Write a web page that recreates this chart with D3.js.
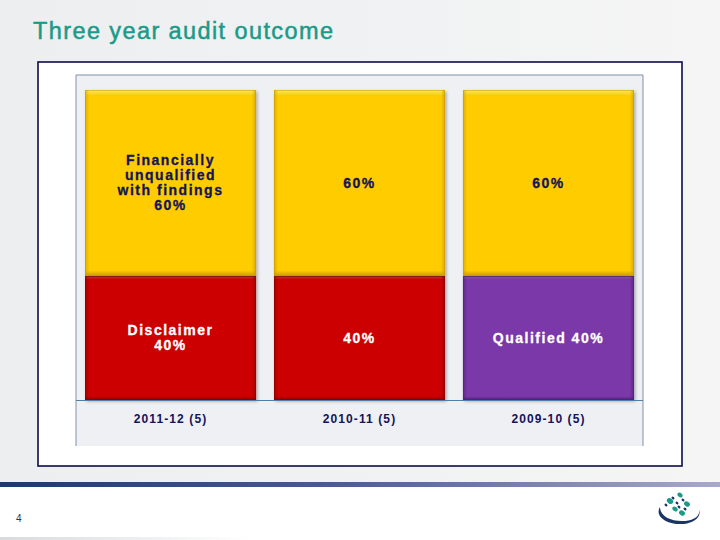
<!DOCTYPE html>
<html>
<head>
<meta charset="utf-8">
<script src="https://cdn.jsdelivr.net/npm/d3@7"></script>
<style>
  html, body { margin: 0; padding: 0; background: #fff; }
  svg { display: block; }
</style>
</head>
<body>
<svg id="chart" width="720" height="540"></svg>
<script>
// ---- data ----
const categories = ["2011-12 (5)", "2010-11 (5)", "2009-10 (5)"];
const seriesKeys = ["Disclaimer", "Qualified", "Financially unqualified with findings"];
const disclaimer = [40, 40, 0];
const qualified = [0, 0, 40];
const unqualifiedFindings = [60, 60, 60];
const disclaimerLabels = [["Disclaimer", "40%"], ["40%"], []];
const qualifiedLabels = [[], [], ["Qualified 40%"]];
const unqualifiedLabels = [["Financially", "unqualified", "with findings", "60%"], ["60%"], ["60%"]];
const titleText = "Three year audit outcome";
const pageNumber = "4";

const seriesColors = ["#cc0000", "#7a38a8", "#ffcc00"];
const seriesLight = ["#f04040", "#a070d0", "#ffe766"];
const seriesDark = ["#8a0000", "#4e1f78", "#c89a00"];
const labelColors = ["#ffffff", "#ffffff", "#14145a"];

const table = categories.map((c, i) => ({
  category: c,
  [seriesKeys[0]]: disclaimer[i],
  [seriesKeys[1]]: qualified[i],
  [seriesKeys[2]]: unqualifiedFindings[i]
}));
const labelSets = [disclaimerLabels, qualifiedLabels, unqualifiedLabels];

const svg = d3.select("#chart");
const defs = svg.append("defs");

// background
const bg = defs.append("linearGradient").attr("id", "bg").attr("x1", 0).attr("x2", 1).attr("y1", 0).attr("y2", 0);
bg.append("stop").attr("offset", "0%").attr("stop-color", "#eceef0");
bg.append("stop").attr("offset", "100%").attr("stop-color", "#f5f5f5");
svg.append("rect").attr("width", 720).attr("height", 540).attr("fill", "#ffffff");
svg.append("rect").attr("width", 720).attr("height", 484).attr("fill", "url(#bg)");

// footer band
const fb = defs.append("linearGradient").attr("id", "fb").attr("x1", 0).attr("x2", 1).attr("y1", 0).attr("y2", 0);
fb.append("stop").attr("offset", "0%").attr("stop-color", "#1c3a6c");
fb.append("stop").attr("offset", "45%").attr("stop-color", "#4a5a8c");
fb.append("stop").attr("offset", "100%").attr("stop-color", "#a8a8cc");
svg.append("rect").attr("x", 0).attr("y", 482).attr("width", 720).attr("height", 5).attr("fill", "url(#fb)");
const fb2 = defs.append("linearGradient").attr("id", "fb2").attr("x1", 0).attr("x2", 1).attr("y1", 0).attr("y2", 0);
fb2.append("stop").attr("offset", "0%").attr("stop-color", "#d8dadc");
fb2.append("stop").attr("offset", "100%").attr("stop-color", "#ffffff");
svg.append("rect").attr("x", 0).attr("y", 537).attr("width", 250).attr("height", 3).attr("fill", "url(#fb2)");

// title
svg.append("text").attr("x", 33).attr("y", 39)
  .attr("font-family", "Liberation Sans, Arial, sans-serif").attr("font-size", 23.5)
  .attr("letter-spacing", "1.4px")
  .attr("stroke", "#1b9a88").attr("stroke-width", 0.5)
  .attr("fill", "#1b9a88").text(titleText);

// outer frame
svg.append("rect").attr("x", 38).attr("y", 62).attr("width", 644).attr("height", 404)
  .attr("fill", "#ffffff").attr("stroke", "#0c0c4a").attr("stroke-width", 1.6);

// inner plot area
const plotL = 76, plotR = 643, plotT = 75, plotB = 446, axisY = 400, barTop = 90;
svg.append("rect").attr("x", plotL).attr("y", plotT).attr("width", plotR - plotL).attr("height", plotB - plotT)
  .attr("fill", "#eef0f3");
svg.append("path").attr("d", `M${plotL},${plotB}V${plotT}H${plotR}V${plotB}`)
  .attr("fill", "none").attr("stroke", "#8090aa").attr("stroke-width", 1);

// scales
const x = d3.scaleBand().domain(categories).range([plotL, plotR]).paddingInner(0.095).paddingOuter(0.0476);
const y = d3.scaleLinear().domain([0, 100]).range([axisY, barTop]);

const stacked = d3.stack().keys(seriesKeys)(table);

// gradients per series (bevel look)
seriesKeys.forEach((k, si) => {
  const g = defs.append("linearGradient").attr("id", "g" + si).attr("x1", 0).attr("x2", 0).attr("y1", 0).attr("y2", 1);
  g.append("stop").attr("offset", "0").attr("stop-color", seriesLight[si]);
  g.append("stop").attr("offset", "0.03").attr("stop-color", seriesColors[si]);
  g.append("stop").attr("offset", "0.97").attr("stop-color", seriesColors[si]);
  g.append("stop").attr("offset", "1").attr("stop-color", seriesDark[si]);
  const h = defs.append("linearGradient").attr("id", "h" + si).attr("x1", 0).attr("x2", 1).attr("y1", 0).attr("y2", 0);
  h.append("stop").attr("offset", "0").attr("stop-color", seriesDark[si]).attr("stop-opacity", 0.6);
  h.append("stop").attr("offset", "0.025").attr("stop-color", seriesDark[si]).attr("stop-opacity", 0);
  h.append("stop").attr("offset", "0.975").attr("stop-color", seriesDark[si]).attr("stop-opacity", 0);
  h.append("stop").attr("offset", "1").attr("stop-color", seriesDark[si]).attr("stop-opacity", 0.7);
});
const sh = defs.append("filter").attr("id", "shadow").attr("x", "-10%").attr("y", "-10%").attr("width", "130%").attr("height", "130%");
sh.append("feDropShadow").attr("dx", 1.5).attr("dy", 1.5).attr("stdDeviation", 1.5).attr("flood-color", "#000").attr("flood-opacity", 0.3);

const barsG = svg.append("g");
stacked.forEach((layer, si) => {
  const g = barsG.append("g");
  layer.forEach((d, ci) => {
    if (d[1] - d[0] <= 0) return;
    const bx = x(categories[ci]), bw = x.bandwidth();
    const y0 = y(d[1]), h = y(d[0]) - y(d[1]);
    g.append("rect").attr("x", bx).attr("y", y0).attr("width", bw).attr("height", h)
      .attr("fill", `url(#g${si})`).attr("filter", "url(#shadow)");
    g.append("rect").attr("x", bx).attr("y", y0).attr("width", bw).attr("height", h)
      .attr("fill", `url(#h${si})`);
    g.append("rect").attr("x", bx + 0.5).attr("y", y0 + 0.5).attr("width", bw - 1).attr("height", h - 1)
      .attr("fill", "none").attr("stroke", seriesDark[si]).attr("stroke-opacity", 0.5).attr("stroke-width", 1);
  });
});
// labels on top of all bars
stacked.forEach((layer, si) => {
  layer.forEach((d, ci) => {
    if (d[1] - d[0] <= 0) return;
    const bx = x(categories[ci]), bw = x.bandwidth();
    const lines = labelSets[si][ci];
    const cy = (y(d[0]) + y(d[1])) / 2;
    const lh = 15;
    lines.forEach((t, li) => {
      barsG.append("text")
        .attr("x", bx + bw / 2)
        .attr("y", cy + (li - (lines.length - 1) / 2) * lh)
        .attr("dy", "0.35em")
        .attr("text-anchor", "middle")
        .attr("font-family", "Liberation Sans, Arial, sans-serif")
        .attr("font-weight", "bold").attr("font-size", 14)
        .attr("letter-spacing", "1.5px")
        .attr("stroke", labelColors[si]).attr("stroke-width", 0.3)
        .attr("fill", labelColors[si]).text(t);
    });
  });
});

// x axis
const xAxis = d3.axisBottom(x).tickSize(0).tickPadding(14);
const ax = svg.append("g").attr("transform", `translate(0,${axisY})`).call(xAxis);
ax.select(".domain").attr("stroke", "#4f7fa8").attr("stroke-width", 1).attr("d", `M${plotL},0.5H${plotR}`);
ax.selectAll("text").attr("font-family", "Liberation Sans, Arial, sans-serif").attr("font-weight", "bold")
  .attr("font-size", 12).attr("letter-spacing", "1.1px").attr("fill", "#14145a");

// page number
svg.append("text").attr("x", 16).attr("y", 522).attr("font-family", "Liberation Sans, Arial, sans-serif")
  .attr("font-size", 10).attr("fill", "#333").text(pageNumber);

// logo
const logo = svg.append("g").attr("transform", "translate(678,513)");
logo.append("path").attr("d", "M-18,-6 C-24,4 -10,12 6,11 C16,10 24,4 21,-4 C23,4 14,8 4,8 C-8,8 -18,3 -18,-6 Z")
  .attr("fill", "#1a3468");
[[-8,-12,2.6,"#1b9a88"],[2,-18,2.2,"#1b9a88"],[-3,-4,2.2,"#1b9a88"],[9,-9,2.4,"#1b9a88"],[4,0,2.4,"#1b9a88"],
 [-12,-8,1.2,"#1a3468"],[-5,-15,1.2,"#1a3468"],[-1,-10,1.2,"#1a3468"],[5,-13,1.2,"#1a3468"],[1,-6,1.2,"#1a3468"],[7,-4,1.2,"#1a3468"]]
  .forEach(([cx, cy, r, c]) => logo.append("ellipse").attr("cx", cx).attr("cy", cy).attr("rx", r * 1.3).attr("ry", r)
    .attr("transform", `rotate(35,${cx},${cy})`).attr("fill", c));
</script>
</body>
</html>
